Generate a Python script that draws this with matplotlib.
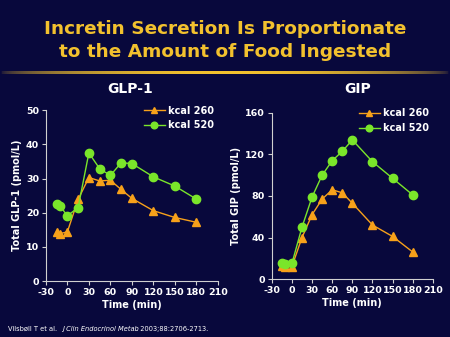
import matplotlib
matplotlib.use('Agg')
import matplotlib.pyplot as plt
from matplotlib.colors import LinearSegmentedColormap
import numpy as np

plt.rcParams['axes.unicode_minus'] = False

# time points (min)
time = [-15, -10, 0, 15, 30, 45, 60, 75, 90, 120, 150, 180]

# GLP-1 (pmol/L)
glp1_260 = [14.4, 13.9, 14.4, 23.9, 30.3, 29.3, 29.5, 26.8, 24.2, 20.6, 18.6, 17.2]
glp1_520 = [22.5, 21.9, 19.1, 21.5, 37.5, 32.9, 30.9, 34.6, 34.4, 30.5, 27.8, 24.0]

# GIP (pmol/L)
gip_260 = [13, 12, 12, 40, 62, 77, 86, 83, 73, 52, 41, 26]
gip_520 = [15, 14, 15, 50, 79, 100, 114, 123, 134, 113, 97, 81]

xticks = [-30, 0, 30, 60, 90, 120, 150, 180, 210]

bg = '#08083c'
orange = '#f7a11a'
green = '#7ae62a'
gold = '#f2c12e'

fig = plt.figure(figsize=(4.5, 3.37), dpi=100)
fig.patch.set_facecolor(bg)

fig.text(0.5, 0.915, 'Incretin Secretion Is Proportionate', ha='center', va='center',
         color=gold, fontsize=13.3, fontweight='bold')
fig.text(0.5, 0.845, 'to the Amount of Food Ingested', ha='center', va='center',
         color=gold, fontsize=13.3, fontweight='bold')

# gold rule under the title, fading at the ends
line_ax = fig.add_axes([0.0, 0.781, 1.0, 0.007])
grad = np.sin(np.linspace(0, np.pi, 256))[None, :] ** 0.5
cmap = LinearSegmentedColormap.from_list('g', [bg, gold])
line_ax.imshow(grad, aspect='auto', cmap=cmap)
line_ax.axis('off')

fig.text(0.29, 0.735, 'GLP-1', ha='center', va='center', color='white',
         fontsize=10, fontweight='bold')
fig.text(0.795, 0.735, 'GIP', ha='center', va='center', color='white',
         fontsize=10, fontweight='bold')


def style(ax, ylim, yticks, ylabel):
    ax.set_facecolor(bg)
    for s in ['top', 'right']:
        ax.spines[s].set_visible(False)
    for s in ['left', 'bottom']:
        ax.spines[s].set_color('#d0d0d0')
        ax.spines[s].set_linewidth(0.8)
    ax.set_xlim(-30, 210)
    ax.set_ylim(*ylim)
    ax.set_xticks(xticks)
    ax.set_yticks(yticks)
    ax.tick_params(colors='#d0d0d0', length=3, width=0.8, direction='out', pad=2)
    for lab in ax.get_xticklabels() + ax.get_yticklabels():
        lab.set_color('white')
        lab.set_fontweight('bold')
        lab.set_fontsize(6.8)
    ax.set_xlabel('Time (min)', color='white', fontsize=7, fontweight='bold', labelpad=2)
    ax.set_ylabel(ylabel, color='white', fontsize=7, fontweight='bold', labelpad=3)
    leg = ax.legend(loc='upper right', bbox_to_anchor=(1.0, 1.05), frameon=False,
                    fontsize=7, handlelength=2.2, handletextpad=0.3,
                    borderaxespad=0.0, labelspacing=0.5, markerscale=0.8)
    for t in leg.get_texts():
        t.set_color('white')
        t.set_fontweight('bold')


ax1 = fig.add_axes([0.102, 0.166, 0.382, 0.507])
ax1.plot(time, glp1_260, color=orange, marker='^', markersize=6, lw=1, label='kcal 260')
ax1.plot(time, glp1_520, color=green, marker='o', markersize=6, lw=1, label='kcal 520')
style(ax1, (0, 50), [0, 10, 20, 30, 40, 50], 'Total GLP-1 (pmol/L)')

ax2 = fig.add_axes([0.604, 0.172, 0.358, 0.493])
ax2.plot(time, gip_260, color=orange, marker='^', markersize=6, lw=1, label='kcal 260')
ax2.plot(time, gip_520, color=green, marker='o', markersize=6, lw=1, label='kcal 520')
style(ax2, (0, 160), [0, 40, 80, 120, 160], 'Total GIP (pmol/L)')

fig.text(0.018, 0.025, 'Vilsbøll T et al. ', color='white', fontsize=4.8, va='center')
fig.text(0.138, 0.025, 'J Clin Endocrinol Metab', color='white', fontsize=4.8,
         style='italic', va='center')
fig.text(0.303, 0.025, '. 2003;88:2706-2713.', color='white', fontsize=4.8, va='center')

fig.savefig('out.png', dpi=100, facecolor=bg)
